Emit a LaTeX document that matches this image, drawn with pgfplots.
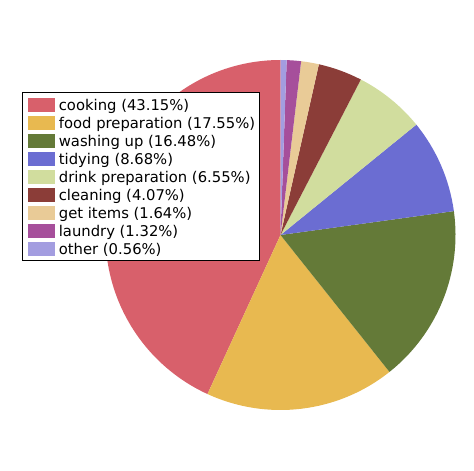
\documentclass[border=0pt]{standalone}
\usepackage{pgfplots}
\usepackage{pgfplotstable}
\usepackage{fontspec}
\setmainfont{DejaVu Sans}
\pgfplotsset{compat=1.18}

\definecolor{ccook}{RGB}{216,96,107}
\definecolor{cfood}{RGB}{232,185,80}
\definecolor{cwash}{RGB}{100,122,56}
\definecolor{ctidy}{RGB}{107,109,210}
\definecolor{cdrink}{RGB}{209,221,158}
\definecolor{cclean}{RGB}{139,61,56}
\definecolor{citems}{RGB}{233,203,151}
\definecolor{claundry}{RGB}{166,79,155}
\definecolor{cother}{RGB}{163,157,224}

% share of each activity, in percent
\pgfplotstableread[col sep=comma]{
name,pct,col
cooking,43.15,ccook
food preparation,17.55,cfood
washing up,16.48,cwash
tidying,8.68,ctidy
drink preparation,6.55,cdrink
cleaning,4.07,cclean
get items,1.64,citems
laundry,1.32,claundry
other,0.56,cother
}\piedata

\begin{document}
\begin{tikzpicture}
\begin{axis}[
  hide axis,
  x=175bp, y=175bp,
  xmin=-1.6029, xmax=1.1057,
  ymin=-1.3429, ymax=1.3429,
  clip=false,
  legend style={
    at={(rel axis cs:0.0458,0.8036)}, anchor=north west,
    draw=black, line width=1.1bp, fill=white,
    font=\fontsize{14.85}{17.8}\selectfont,
    inner xsep=4.8bp, inner ysep=3bp,
    row sep=0bp,
    nodes={inner sep=0pt, text height=15bp, text depth=3bp},
  },
  legend cell align=left,
  legend image code/.code={
    \fill[#1, draw=none] (0.8bp,-7bp) rectangle (27.8bp,7bp);
    \path[draw=none, fill=none] (0bp,0bp) rectangle (31.8bp,0.1bp);
  },
]
\path (rel axis cs:0,0) rectangle (rel axis cs:1,1);
\pgfplotsextra{
  \xdef\acc{90}
  \foreach \i in {0,...,8}{
    \pgfplotstablegetelem{\i}{pct}\of\piedata \let\p=\pgfplotsretval
    \pgfplotstablegetelem{\i}{col}\of\piedata \let\c=\pgfplotsretval
    \pgfmathsetmacro\b{\acc+3.6*\p}
    \fill[\c] (axis cs:0,0) -- (axis cs:{cos(\acc)},{sin(\acc)})
      arc[start angle=\acc, end angle=\b, radius=175bp] -- cycle;
    \xdef\acc{\b}
  }
}
\addlegendimage{ccook}\addlegendentry{cooking (43.15\%)}
\addlegendimage{cfood}\addlegendentry{food preparation (17.55\%)}
\addlegendimage{cwash}\addlegendentry{washing up (16.48\%)}
\addlegendimage{ctidy}\addlegendentry{tidying (8.68\%)}
\addlegendimage{cdrink}\addlegendentry{drink preparation (6.55\%)}
\addlegendimage{cclean}\addlegendentry{cleaning (4.07\%)}
\addlegendimage{citems}\addlegendentry{get items (1.64\%)}
\addlegendimage{claundry}\addlegendentry{laundry (1.32\%)}
\addlegendimage{cother}\addlegendentry{other (0.56\%)}
\end{axis}
\end{tikzpicture}
\end{document}
